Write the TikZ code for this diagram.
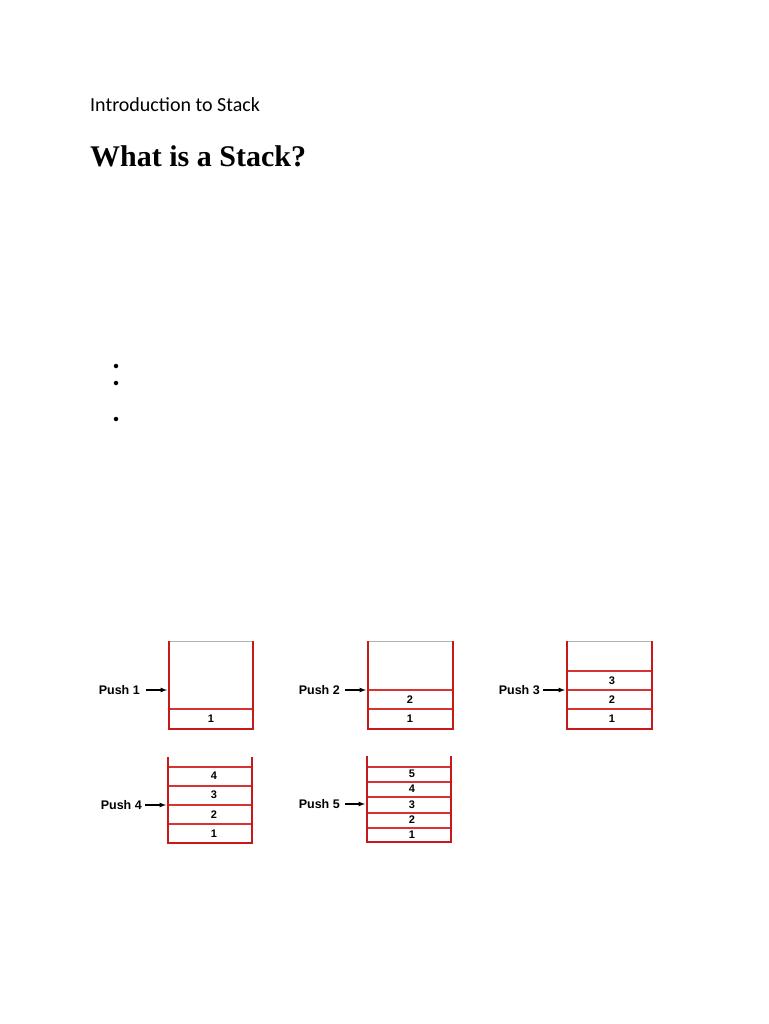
\documentclass[tikz,border=0pt]{standalone}
\usepackage{fontspec}
\setmainfont{Liberation Serif}
\newfontfamily\calfnt{Carlito}
\newfontfamily\ari{Liberation Sans}
\begin{document}
\begin{tikzpicture}[x=1pt,y=-1pt,
  wall/.style={draw=red!75!black!90,line width=2.2pt},
  cell/.style={draw=red!80!black!80,line width=1.4pt},
  topl/.style={draw=gray!60,line width=0.8pt},
  lbl/.style={font=\ari\fontsize{12.5}{13}\selectfont\bfseries,inner sep=0pt},
  num/.style={font=\ari\fontsize{11}{12}\selectfont\bfseries,inner sep=0pt},
  arr/.style={-latex,line width=1.2pt}]
\useasboundingbox (0,0) rectangle (768,1024);
\node[anchor=base west,inner sep=0pt,font=\calfnt\fontsize{20}{22}\selectfont] (intro) at (90,112) {Introduction to Stack};
\node[anchor=base west,inner sep=0pt,font=\fontsize{30}{32}\selectfont\bfseries] (title) at (90,167) {What is a Stack?};
\foreach \y/\n in {366/b1,383/b2,419/b3}
  \node[circle,fill=black,inner sep=0pt,minimum size=4.5pt] (\n) at (116,\y) {};
% stack 1
\draw[topl] (169,641) -- (253,641);
\draw[cell] (169,709) -- (253,709);
\draw[wall] (169,641) -- (169,729) -- (253,729) -- (253,641);
\node[num] (s1a) at (211,719) {1};
\node[lbl,anchor=east] (p1) at (140,690) {Push 1};
\coordinate (t1) at (167,690);
\draw[arr] (146,690) -- (t1);
% stack 2
\draw[topl] (368,641) -- (453,641);
\foreach \y in {690,709} \draw[cell] (368,\y) -- (453,\y);
\draw[wall] (368,641) -- (368,729) -- (453,729) -- (453,641);
\node[num] (s2a) at (410,719) {1};
\node[num] (s2b) at (410,700) {2};
\node[lbl,anchor=east] (p2) at (340,690) {Push 2};
\coordinate (t2) at (366,690);
\draw[arr] (345,690) -- (t2);
% stack 3
\draw[topl] (567,641) -- (652,641);
\foreach \y in {671,690,709} \draw[cell] (567,\y) -- (652,\y);
\draw[wall] (567,641) -- (567,729) -- (652,729) -- (652,641);
\node[num] (s3a) at (612,719) {1};
\node[num] (s3b) at (612,700) {2};
\node[num] (s3c) at (612,681) {3};
\node[lbl,anchor=east] (p3) at (540,690) {Push 3};
\coordinate (t3) at (565,690);
\draw[arr] (543,690) -- (t3);
% stack 4
\foreach \y in {767,786,805,824} \draw[cell] (168,\y) -- (252,\y);
\draw[wall] (168,757) -- (168,843) -- (252,843) -- (252,757);
\node[num] (s4a) at (214,834) {1};
\node[num] (s4b) at (214,815) {2};
\node[num] (s4c) at (214,795) {3};
\node[num] (s4d) at (214,776) {4};
\node[lbl,anchor=east] (p4) at (142,805) {Push 4};
\coordinate (t4) at (166,805);
\draw[arr] (145,805) -- (t4);
% stack 5
\foreach \y in {767,782,797,813,828} \draw[cell] (367,\y) -- (451,\y);
\draw[wall] (367,756) -- (367,842) -- (451,842) -- (451,756);
\node[num] (s5a) at (412,835) {1};
\node[num] (s5b) at (412,820) {2};
\node[num] (s5c) at (412,805) {3};
\node[num] (s5d) at (412,789) {4};
\node[num] (s5e) at (412,774) {5};
\node[lbl,anchor=east] (p5) at (340,804) {Push 5};
\coordinate (t5) at (365,804);
\draw[arr] (345,804) -- (t5);
\end{tikzpicture}
\end{document}
